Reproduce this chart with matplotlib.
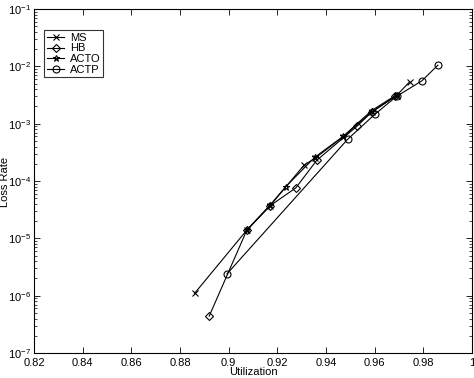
import matplotlib
matplotlib.use("Agg")
import matplotlib.pyplot as plt
from matplotlib.ticker import LogLocator, NullFormatter

# values
ms_x = [0.886, 0.9075, 0.917, 0.931, 0.9355, 0.947, 0.9588, 0.969, 0.9744]
ms_y = [1.1e-6, 1.4e-5, 3.7e-5, 1.9e-4, 2.5e-4, 5.9e-4, 1.6e-3, 3.1e-3, 5.4e-3]

hb_x = [0.892, 0.9075, 0.917, 0.9276, 0.9362, 0.9527, 0.9588, 0.9685]
hb_y = [4.4e-7, 1.4e-5, 3.7e-5, 7.6e-5, 2.3e-4, 9.0e-4, 1.6e-3, 3.0e-3]

acto_x = [0.9075, 0.917, 0.9235, 0.9354, 0.947, 0.9588, 0.969]
acto_y = [1.4e-5, 3.8e-5, 8.0e-5, 2.6e-4, 6.0e-4, 1.7e-3, 3.2e-3]

actp_x = [0.8993, 0.949, 0.960, 0.969, 0.9794, 0.986]
actp_y = [2.4e-6, 5.4e-4, 1.45e-3, 3.0e-3, 5.6e-3, 1.05e-2]

xticks = [0.82, 0.84, 0.86, 0.88, 0.9, 0.92, 0.94, 0.96, 0.98, 1.0]
xticklabels = ["0.82", "0.84", "0.86", "0.88", "0.9", "0.92", "0.94", "0.96", "0.98", "1"]

plt.rcParams["font.family"] = ["Liberation Sans", "DejaVu Sans"]
plt.rcParams["mathtext.fontset"] = "custom"
plt.rcParams["mathtext.rm"] = "Liberation Sans"

fig = plt.figure(figsize=(4.74, 3.78), dpi=100)
ax = fig.add_axes([0.0717, 0.066, 0.924, 0.910])

style = dict(color="black", linewidth=0.8, markersize=5, markerfacecolor="none",
             markeredgewidth=0.8)
ax.plot(ms_x, ms_y, marker="x", label="MS", **{**style, "markersize": 4.5})
ax.plot(hb_x, hb_y, marker="D", label="HB", **{**style, "markersize": 4})
ax.plot(acto_x, acto_y, marker="*", label="ACTO", **{**style, "markersize": 4.5})
ax.plot(actp_x, actp_y, marker="o", label="ACTP", **style)

ax.set_yscale("log")
ax.set_xlim(0.82, 1.0)
ax.set_ylim(1e-7, 1e-1)
ax.set_xticks(xticks)
ax.set_xticklabels(xticklabels)
ax.yaxis.set_major_locator(LogLocator(base=10, numticks=10))
ax.yaxis.set_minor_locator(LogLocator(base=10, subs=range(2, 10), numticks=10))
ax.yaxis.set_minor_formatter(NullFormatter())
ax.tick_params(which="both", direction="in", top=True, right=True, labelsize=8)
ax.tick_params(axis="y", which="major", pad=2)
ax.tick_params(which="major", length=4, width=0.6)
ax.tick_params(which="minor", length=2, width=0.5)
for s in ax.spines.values():
    s.set_linewidth(0.8)

ax.set_xlabel("Utilization", fontsize=8, labelpad=-1)
fig.text(5 / 474, 0.52, "Loss Rate", rotation=90, fontsize=8,
         ha="center", va="center")

leg = ax.legend(loc="upper left", bbox_to_anchor=(0.01, 0.955), fontsize=8,
                frameon=True, fancybox=False, edgecolor="black",
                handlelength=1.6, handletextpad=0.5, borderpad=0.25,
                labelspacing=0.05)
leg.get_frame().set_linewidth(0.8)

fig.savefig("out.png", dpi=100)
